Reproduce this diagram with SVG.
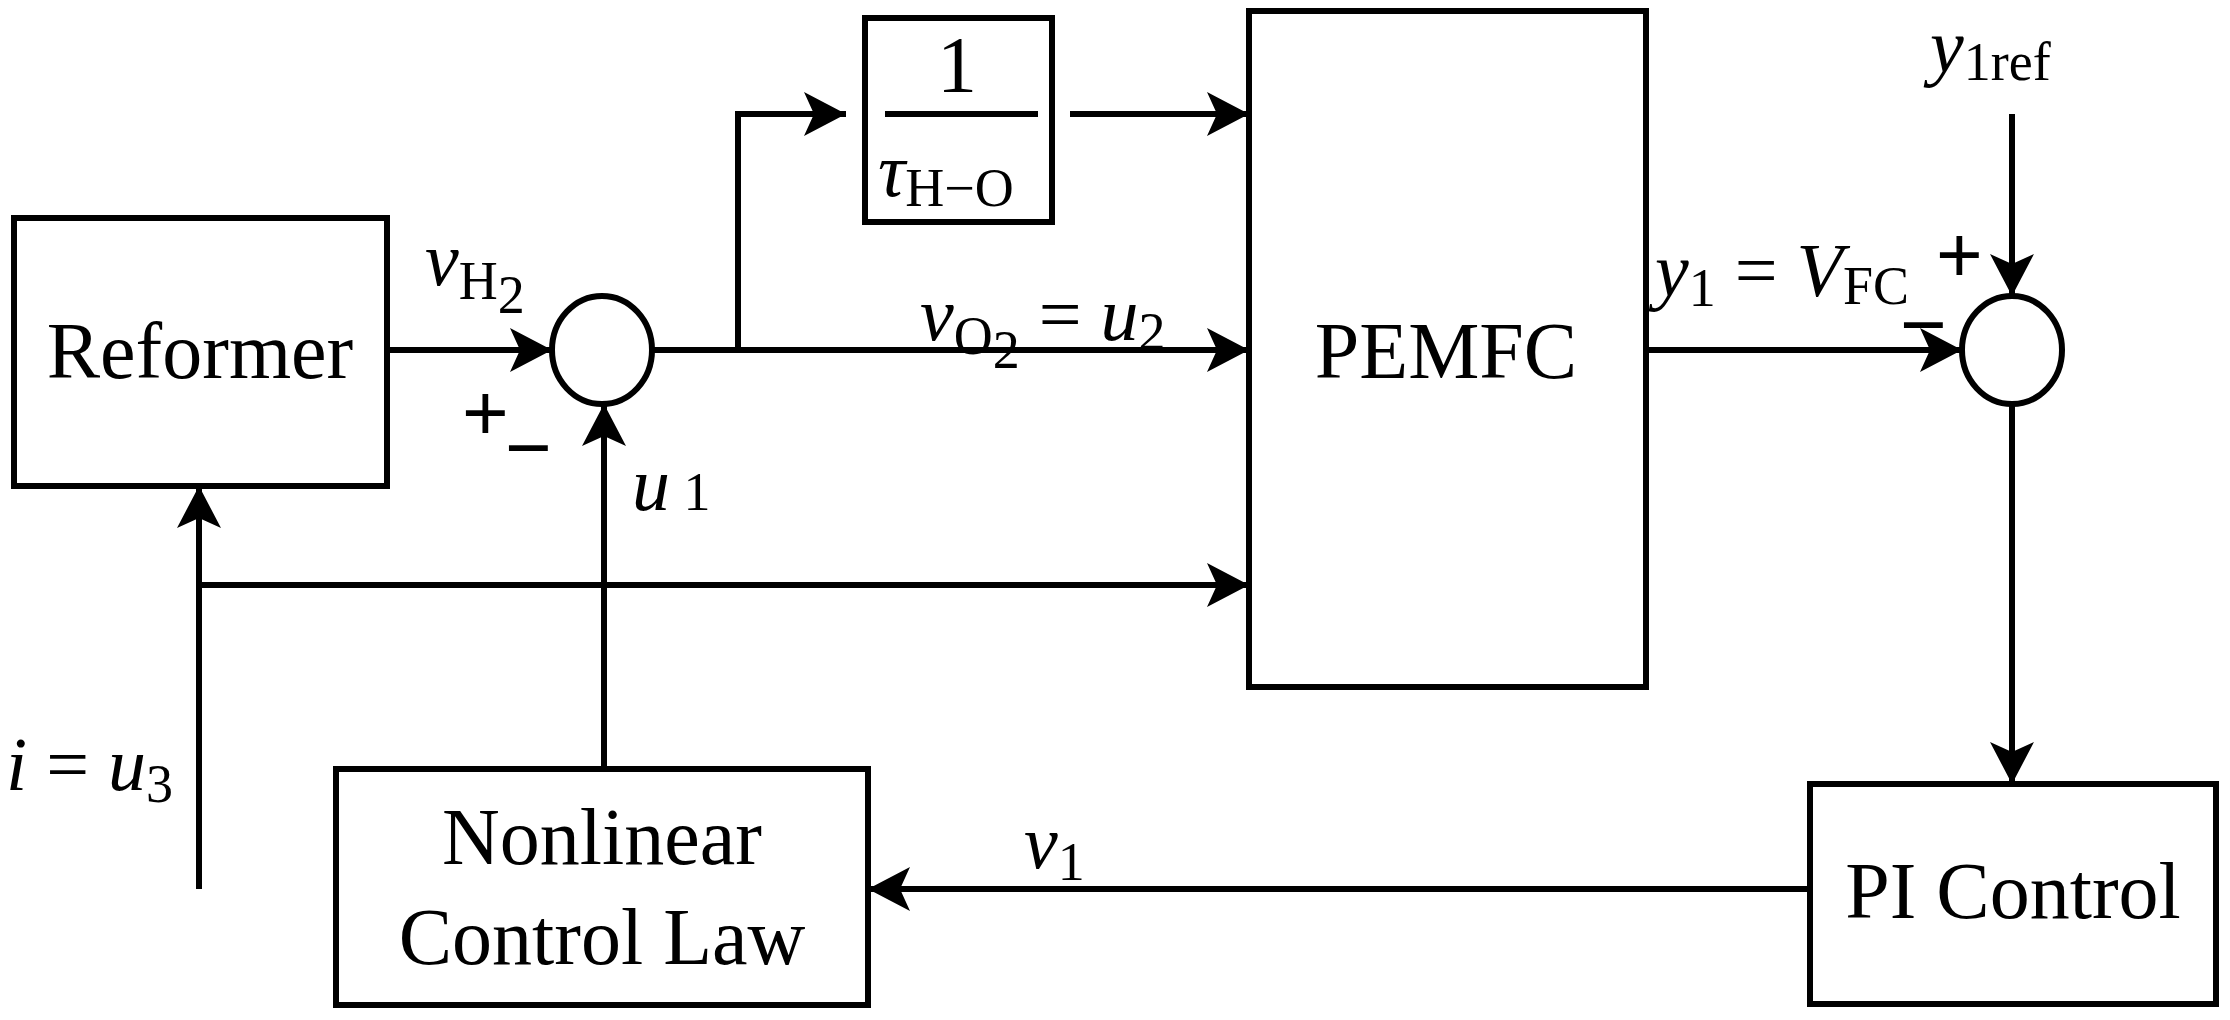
<svg xmlns="http://www.w3.org/2000/svg" width="2230" height="1020" viewBox="0 0 2230 1020">
<style>
.b{fill:#fff;stroke:#000;stroke-width:6}
.l{fill:none;stroke:#000;stroke-width:6}
.t{font-family:"Liberation Serif",serif;font-size:80px;fill:#000}
.i{font-family:"Liberation Serif",serif;font-size:76px;font-style:italic;fill:#000}
.s{font-size:54px;font-style:normal}
.pm{font-family:"Liberation Sans",sans-serif;font-size:80px;fill:#000}
</style>
<defs><marker id="a" markerUnits="userSpaceOnUse" markerWidth="44" markerHeight="44" refX="42" refY="22" orient="auto"><path d="M0,0 L42,22 L0,44 L10,22 Z" fill="#000"/></marker></defs>
<g id="reformer"><rect class="b" x="14" y="218" width="373" height="268"/><text class="t" x="200" y="378" text-anchor="middle">Reformer</text></g>
<g id="sum1"><ellipse class="b" cx="602" cy="350" rx="50" ry="54"/></g>
<g id="gain"><rect class="b" x="865" y="18" width="187" height="204"/><line class="l" x1="885" y1="114" x2="1038" y2="114" stroke-width="3"/><text class="t" x="957" y="92" text-anchor="middle">1</text><text class="i" x="878" y="196">τ<tspan class="s" dy="10">H−O</tspan></text></g>
<g id="pemfc"><rect class="b" x="1249" y="11" width="397" height="676"/><text class="t" x="1446" y="378" text-anchor="middle">PEMFC</text></g>
<g id="sum2"><ellipse class="b" cx="2012" cy="350" rx="50" ry="54"/></g>
<g id="pi"><rect class="b" x="1810" y="784" width="406" height="220"/><text class="t" x="2013" y="918" text-anchor="middle">PI Control</text></g>
<g id="nonlinear"><rect class="b" x="336" y="769" width="532" height="236"/><text class="t" x="602" y="864" text-anchor="middle">Nonlinear</text><text class="t" x="602" y="964" text-anchor="middle">Control Law</text></g>
<g id="connectors">
<line class="l" x1="387" y1="350" x2="552" y2="350" marker-end="url(#a)"/>
<line class="l" x1="652" y1="350" x2="1249" y2="350" marker-end="url(#a)"/>
<polyline class="l" points="738,350 738,114 846,114" marker-end="url(#a)"/>
<line class="l" x1="1070" y1="114" x2="1249" y2="114" marker-end="url(#a)"/>
<line class="l" x1="199" y1="889" x2="199" y2="486" marker-end="url(#a)"/>
<line class="l" x1="199" y1="585" x2="1249" y2="585" marker-end="url(#a)"/>
<line class="l" x1="604" y1="769" x2="604" y2="404" marker-end="url(#a)"/>
<line class="l" x1="1646" y1="350" x2="1962" y2="350" marker-end="url(#a)"/>
<line class="l" x1="2012" y1="114" x2="2012" y2="296" marker-end="url(#a)"/>
<line class="l" x1="2012" y1="404" x2="2012" y2="784" marker-end="url(#a)"/>
<line class="l" x1="1810" y1="889" x2="868" y2="889" marker-end="url(#a)"/>
</g>
<g id="labels">
<text class="i" x="425" y="285">v<tspan class="s" dy="14">H</tspan><tspan class="s" font-size="40" dy="14">2</tspan></text>
<text class="pm" x="462" y="440">+</text>
<text class="pm" x="505" y="475">−</text>
<text class="i" x="632" y="510">u<tspan class="s" font-size="46"> 1</tspan></text>
<text class="i" x="920" y="340">v<tspan class="s" dy="14">O</tspan><tspan class="s" font-size="40" dy="14">2</tspan><tspan dy="-28" font-style="normal"> = </tspan>u<tspan class="s" dy="10">2</tspan></text>
<text class="i" x="1655" y="296" font-size="70">y<tspan class="s" font-size="48" dy="10">1</tspan><tspan dy="-10" font-style="normal"> = </tspan>V<tspan class="s" font-size="44" dy="8">FC</tspan></text>
<text class="pm" x="1936" y="282">+</text>
<text class="pm" x="1900" y="352">−</text>
<text class="i" x="1930" y="72">y<tspan class="s" dy="8">1ref</tspan></text>
<text class="i" x="6" y="790">i<tspan font-style="normal"> = </tspan>u<tspan class="s" dy="12">3</tspan></text>
<text class="i" x="1024" y="868">v<tspan class="s" dy="12">1</tspan></text>
</g>
</svg>
